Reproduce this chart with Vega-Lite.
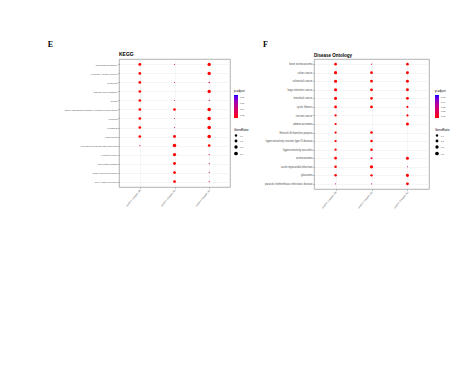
{
  "$schema": "https://vega.github.io/schema/vega-lite/v6.json",
  "padding": {"left": 47, "top": 40, "right": 0, "bottom": 0},
  "background": "white",
  "datasets": {
    "kegg": [
      {"term": "p53 signaling pathway", "group": "circRNA-1 targets (28)", "GeneRatio": 0.6, "padj": 0.01},
      {"term": "p53 signaling pathway", "group": "circRNA-2 targets (35)", "GeneRatio": 0.08, "padj": 0.03},
      {"term": "p53 signaling pathway", "group": "circRNA-3 targets (30)", "GeneRatio": 0.8, "padj": 0.01},
      {"term": "Apoptosis - multiple species", "group": "circRNA-1 targets (28)", "GeneRatio": 0.5, "padj": 0.01},
      {"term": "Apoptosis - multiple species", "group": "circRNA-3 targets (30)", "GeneRatio": 0.8, "padj": 0.01},
      {"term": "Melanoma", "group": "circRNA-1 targets (28)", "GeneRatio": 0.5, "padj": 0.01},
      {"term": "Melanoma", "group": "circRNA-2 targets (35)", "GeneRatio": 0.08, "padj": 0.03},
      {"term": "Melanoma", "group": "circRNA-3 targets (30)", "GeneRatio": 0.15, "padj": 0.02},
      {"term": "Platinum drug resistance", "group": "circRNA-1 targets (28)", "GeneRatio": 0.5, "padj": 0.01},
      {"term": "Platinum drug resistance", "group": "circRNA-3 targets (30)", "GeneRatio": 0.8, "padj": 0.01},
      {"term": "Glioma", "group": "circRNA-1 targets (28)", "GeneRatio": 0.5, "padj": 0.01},
      {"term": "Glioma", "group": "circRNA-2 targets (35)", "GeneRatio": 0.08, "padj": 0.03},
      {"term": "Glioma", "group": "circRNA-3 targets (30)", "GeneRatio": 0.1, "padj": 0.04},
      {"term": "AGE-RAGE signaling pathway in diabetic complications", "group": "circRNA-1 targets (28)", "GeneRatio": 0.5, "padj": 0.01},
      {"term": "AGE-RAGE signaling pathway in diabetic complications", "group": "circRNA-2 targets (35)", "GeneRatio": 0.5, "padj": 0.01},
      {"term": "AGE-RAGE signaling pathway in diabetic complications", "group": "circRNA-3 targets (30)", "GeneRatio": 0.9, "padj": 0.01},
      {"term": "Apoptosis", "group": "circRNA-1 targets (28)", "GeneRatio": 0.5, "padj": 0.01},
      {"term": "Apoptosis", "group": "circRNA-2 targets (35)", "GeneRatio": 0.08, "padj": 0.03},
      {"term": "Apoptosis", "group": "circRNA-3 targets (30)", "GeneRatio": 0.9, "padj": 0.01},
      {"term": "Hepatitis B", "group": "circRNA-1 targets (28)", "GeneRatio": 0.5, "padj": 0.01},
      {"term": "Hepatitis B", "group": "circRNA-2 targets (35)", "GeneRatio": 0.08, "padj": 0.03},
      {"term": "Hepatitis B", "group": "circRNA-3 targets (30)", "GeneRatio": 0.9, "padj": 0.01},
      {"term": "Tuberculosis", "group": "circRNA-1 targets (28)", "GeneRatio": 0.5, "padj": 0.01},
      {"term": "Tuberculosis", "group": "circRNA-2 targets (35)", "GeneRatio": 0.6, "padj": 0.01},
      {"term": "Tuberculosis", "group": "circRNA-3 targets (30)", "GeneRatio": 0.9, "padj": 0.01},
      {"term": "Fluid shear stress and atherosclerosis", "group": "circRNA-1 targets (28)", "GeneRatio": 0.1, "padj": 0.03},
      {"term": "Fluid shear stress and atherosclerosis", "group": "circRNA-2 targets (35)", "GeneRatio": 0.9, "padj": 0.01},
      {"term": "Fluid shear stress and atherosclerosis", "group": "circRNA-3 targets (30)", "GeneRatio": 0.5, "padj": 0.01},
      {"term": "Allograft rejection", "group": "circRNA-2 targets (35)", "GeneRatio": 0.75, "padj": 0.01},
      {"term": "Allograft rejection", "group": "circRNA-3 targets (30)", "GeneRatio": 0.1, "padj": 0.04},
      {"term": "Rheumatoid arthritis", "group": "circRNA-2 targets (35)", "GeneRatio": 0.6, "padj": 0.01},
      {"term": "Rheumatoid arthritis", "group": "circRNA-3 targets (30)", "GeneRatio": 0.1, "padj": 0.04},
      {"term": "Graft-versus-host disease", "group": "circRNA-2 targets (35)", "GeneRatio": 0.6, "padj": 0.01},
      {"term": "Graft-versus-host disease", "group": "circRNA-3 targets (30)", "GeneRatio": 0.1, "padj": 0.04},
      {"term": "Type I diabetes mellitus", "group": "circRNA-2 targets (35)", "GeneRatio": 0.6, "padj": 0.01},
      {"term": "Type I diabetes mellitus", "group": "circRNA-3 targets (30)", "GeneRatio": 0.1, "padj": 0.04}
    ],
    "do": [
      {"term": "bone osteosarcoma", "group": "circRNA-1 targets (28)", "GeneRatio": 0.5, "padj": 0.005},
      {"term": "bone osteosarcoma", "group": "circRNA-2 targets (35)", "GeneRatio": 0.08, "padj": 0.02},
      {"term": "bone osteosarcoma", "group": "circRNA-3 targets (30)", "GeneRatio": 0.5, "padj": 0.005},
      {"term": "colon cancer", "group": "circRNA-1 targets (28)", "GeneRatio": 0.7, "padj": 0.005},
      {"term": "colon cancer", "group": "circRNA-2 targets (35)", "GeneRatio": 0.55, "padj": 0.005},
      {"term": "colon cancer", "group": "circRNA-3 targets (30)", "GeneRatio": 0.6, "padj": 0.005},
      {"term": "colorectal cancer", "group": "circRNA-1 targets (28)", "GeneRatio": 0.7, "padj": 0.005},
      {"term": "colorectal cancer", "group": "circRNA-2 targets (35)", "GeneRatio": 0.55, "padj": 0.005},
      {"term": "colorectal cancer", "group": "circRNA-3 targets (30)", "GeneRatio": 0.6, "padj": 0.005},
      {"term": "large intestine cancer", "group": "circRNA-1 targets (28)", "GeneRatio": 0.7, "padj": 0.005},
      {"term": "large intestine cancer", "group": "circRNA-2 targets (35)", "GeneRatio": 0.55, "padj": 0.005},
      {"term": "large intestine cancer", "group": "circRNA-3 targets (30)", "GeneRatio": 0.6, "padj": 0.005},
      {"term": "intestinal cancer", "group": "circRNA-1 targets (28)", "GeneRatio": 0.7, "padj": 0.005},
      {"term": "intestinal cancer", "group": "circRNA-2 targets (35)", "GeneRatio": 0.55, "padj": 0.005},
      {"term": "intestinal cancer", "group": "circRNA-3 targets (30)", "GeneRatio": 0.6, "padj": 0.005},
      {"term": "cystic fibrosis", "group": "circRNA-1 targets (28)", "GeneRatio": 0.55, "padj": 0.005},
      {"term": "cystic fibrosis", "group": "circRNA-2 targets (35)", "GeneRatio": 0.55, "padj": 0.005},
      {"term": "cystic fibrosis", "group": "circRNA-3 targets (30)", "GeneRatio": 0.3, "padj": 0.005},
      {"term": "rectum cancer", "group": "circRNA-1 targets (28)", "GeneRatio": 0.35, "padj": 0.005},
      {"term": "rectum cancer", "group": "circRNA-3 targets (30)", "GeneRatio": 0.35, "padj": 0.005},
      {"term": "adenocarcinoma", "group": "circRNA-1 targets (28)", "GeneRatio": 0.35, "padj": 0.005},
      {"term": "adenocarcinoma", "group": "circRNA-3 targets (30)", "GeneRatio": 0.65, "padj": 0.005},
      {"term": "Henoch-Schoenlein purpura", "group": "circRNA-1 targets (28)", "GeneRatio": 0.35, "padj": 0.005},
      {"term": "Henoch-Schoenlein purpura", "group": "circRNA-2 targets (35)", "GeneRatio": 0.45, "padj": 0.005},
      {"term": "hypersensitivity reaction type III disease", "group": "circRNA-1 targets (28)", "GeneRatio": 0.35, "padj": 0.005},
      {"term": "hypersensitivity reaction type III disease", "group": "circRNA-2 targets (35)", "GeneRatio": 0.45, "padj": 0.005},
      {"term": "hypersensitivity vasculitis", "group": "circRNA-1 targets (28)", "GeneRatio": 0.35, "padj": 0.005},
      {"term": "hypersensitivity vasculitis", "group": "circRNA-2 targets (35)", "GeneRatio": 0.45, "padj": 0.005},
      {"term": "osteosarcoma", "group": "circRNA-1 targets (28)", "GeneRatio": 0.55, "padj": 0.005},
      {"term": "osteosarcoma", "group": "circRNA-2 targets (35)", "GeneRatio": 0.3, "padj": 0.01},
      {"term": "osteosarcoma", "group": "circRNA-3 targets (30)", "GeneRatio": 0.7, "padj": 0.005},
      {"term": "acute myocardial infarction", "group": "circRNA-1 targets (28)", "GeneRatio": 0.45, "padj": 0.005},
      {"term": "acute myocardial infarction", "group": "circRNA-2 targets (35)", "GeneRatio": 0.75, "padj": 0.005},
      {"term": "acute myocardial infarction", "group": "circRNA-3 targets (30)", "GeneRatio": 0.08, "padj": 0.03},
      {"term": "glaucoma", "group": "circRNA-1 targets (28)", "GeneRatio": 0.45, "padj": 0.005},
      {"term": "glaucoma", "group": "circRNA-2 targets (35)", "GeneRatio": 0.4, "padj": 0.005},
      {"term": "glaucoma", "group": "circRNA-3 targets (30)", "GeneRatio": 0.7, "padj": 0.005},
      {"term": "parasitic helminthiasis infectious disease", "group": "circRNA-1 targets (28)", "GeneRatio": 0.08, "padj": 0.03},
      {"term": "parasitic helminthiasis infectious disease", "group": "circRNA-2 targets (35)", "GeneRatio": 0.08, "padj": 0.03},
      {"term": "parasitic helminthiasis infectious disease", "group": "circRNA-3 targets (30)", "GeneRatio": 0.6, "padj": 0.005}
    ]
  },
  "config": {
    "font": "Liberation Sans",
    "view": {"stroke": "#a0a0a0", "strokeWidth": 0.8},
    "axis": {
      "labelFontSize": 2.2,
      "labelColor": "#4d4d4d",
      "gridColor": "#ebebeb",
      "gridWidth": 0.5,
      "tickSize": 1.2,
      "tickColor": "#333333",
      "tickWidth": 0.4,
      "domain": false,
      "labelPadding": 0.8,
      "title": null
    },
    "legend": {
      "titleFontSize": 3,
      "titleFontWeight": "normal",
      "titleColor": "#000000",
      "labelFontSize": 2.2,
      "labelColor": "#333333",
      "titlePadding": 2,
      "labelOffset": 2,
      "gradientLength": 23,
      "gradientThickness": 4,
      "gradientStrokeWidth": 0,
      "rowPadding": 2.5,
      "symbolType": "circle",
      "symbolFillColor": "black",
      "symbolStrokeWidth": 0,
      "padding": 0
    },
    "title": {"anchor": "start", "color": "#000000"}
  },
  "spacing": 14,
  "resolve": {"scale": {"color": "independent", "size": "independent"}, "legend": {"color": "independent", "size": "independent"}},
  "hconcat": [
    {
      "title": {"text": "E", "font": "Liberation Serif", "fontSize": 8, "fontWeight": "bold", "offset": 0, "dx": -15, "dy": -3},
      "hconcat": [
        {
          "title": {"text": "KEGG", "fontSize": 5, "fontWeight": "bold", "frame": "group", "offset": 2},
          "width": 111,
          "height": 128,
          "data": {"name": "kegg"},
          "mark": {"type": "circle", "opacity": 1},
          "encoding": {
            "x": {"field": "group", "type": "nominal", "sort": ["circRNA-1 targets (28)", "circRNA-2 targets (35)", "circRNA-3 targets (30)"], "scale": {"type": "point", "padding": 0.6}, "axis": {"labelAngle": -50, "labelAlign": "right", "labelBaseline": "middle", "grid": true}},
            "y": {"field": "term", "type": "nominal", "sort": ["p53 signaling pathway", "Apoptosis - multiple species", "Melanoma", "Platinum drug resistance", "Glioma", "AGE-RAGE signaling pathway in diabetic complications", "Apoptosis", "Hepatitis B", "Tuberculosis", "Fluid shear stress and atherosclerosis", "Allograft rejection", "Rheumatoid arthritis", "Graft-versus-host disease", "Type I diabetes mellitus"], "scale": {"type": "point", "padding": 0.6}, "axis": {"grid": true}},
            "color": {"field": "padj", "type": "quantitative", "title": "p.adjust", "scale": {"domain": [0.01, 0.085], "range": ["#ff0000", "#0000ff"], "interpolate": "lab"}, "legend": {"orient": "none", "legendX": 115, "legendY": 31, "values": [0.02, 0.04, 0.06, 0.08], "format": ".2f", "direction": "vertical"}},
            "size": {"field": "GeneRatio", "type": "quantitative", "title": "GeneRatio", "scale": {"domain": [0, 1], "range": [0, 14]}, "legend": {"orient": "none", "legendX": 115, "legendY": 70, "values": [0.4, 0.6, 0.8, 1.0], "format": ".1f"}}
          }
        }
      ]
    },
    {
      "title": {"text": "F", "font": "Liberation Serif", "fontSize": 8, "fontWeight": "bold", "offset": 0, "dx": -1, "dy": -3},
      "hconcat": [
        {
          "title": {"text": "Disease Ontology", "fontSize": 4.5, "fontWeight": "bold", "frame": "group", "offset": 2},
          "width": 115,
          "height": 130,
          "data": {"name": "do"},
          "mark": {"type": "circle", "opacity": 1},
          "encoding": {
            "x": {"field": "group", "type": "nominal", "sort": ["circRNA-1 targets (28)", "circRNA-2 targets (35)", "circRNA-3 targets (30)"], "scale": {"type": "point", "padding": 0.6}, "axis": {"labelAngle": -50, "labelAlign": "right", "labelBaseline": "middle", "grid": true}},
            "y": {"field": "term", "type": "nominal", "sort": ["bone osteosarcoma", "colon cancer", "colorectal cancer", "large intestine cancer", "intestinal cancer", "cystic fibrosis", "rectum cancer", "adenocarcinoma", "Henoch-Schoenlein purpura", "hypersensitivity reaction type III disease", "hypersensitivity vasculitis", "osteosarcoma", "acute myocardial infarction", "glaucoma", "parasitic helminthiasis infectious disease"], "scale": {"type": "point", "padding": 0.6}, "axis": {"grid": true, "labelFontSize": 2.65}},
            "color": {"field": "padj", "type": "quantitative", "title": "p.adjust", "scale": {"domain": [0.005, 0.055], "range": ["#ff0000", "#0000ff"], "interpolate": "lab"}, "legend": {"orient": "none", "legendX": 121, "legendY": 31, "values": [0.01, 0.02, 0.03, 0.04, 0.05], "format": ".2f", "direction": "vertical"}},
            "size": {"field": "GeneRatio", "type": "quantitative", "title": "GeneRatio", "scale": {"domain": [0, 1], "range": [0, 14]}, "legend": {"orient": "none", "legendX": 121, "legendY": 70, "values": [0.4, 0.6, 0.8, 1.0], "format": ".1f"}}
          }
        }
      ]
    }
  ]
}
